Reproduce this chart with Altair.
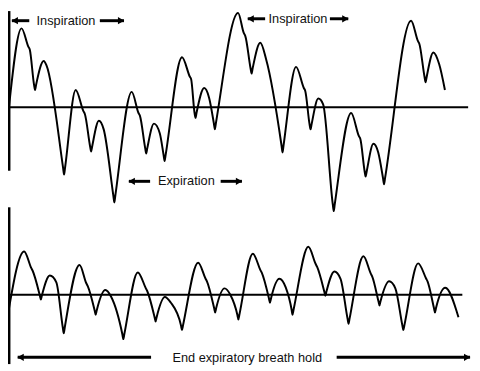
import altair as alt
import pandas as pd

# ---- trace data (x = time position, y = vertical position, 0 at top) ----
top_x = [1, 14, 21, 22.5, 27, 28, 29, 37, 40, 57, 58, 59, 70, 78, 79.5, 85, 86, 87, 94, 99,
         109, 110, 111, 128, 135, 136.5, 142, 143, 144, 151, 157, 161, 162, 163, 180, 188,
         189.5, 193, 194, 195, 203, 208, 213, 214, 215, 238, 244, 245.5, 251, 252, 253,
         261, 267, 283, 284, 285, 298, 306, 307.5, 312, 313, 314, 321, 326, 336, 337, 338,
         355, 363, 364.5, 369, 370, 371, 378, 383, 388, 389, 390, 417, 424, 425.5, 431,
         432, 433, 440, 446, 452]
top_y = [100, 18, 37, 40, 77, 82, 77, 52, 57, 163, 170, 163, 82, 104, 107, 141, 146, 141, 114,
         123, 192, 199, 192, 84, 106, 109, 143, 148, 143, 117, 127, 150, 156, 150, 48, 68,
         71, 106, 111, 106, 80, 90, 117, 123, 117, 2, 23, 26, 60, 65, 60,
         33, 50, 140, 147, 140, 58, 80, 83, 118, 123, 118, 91, 97, 201, 208, 201,
         106, 130, 133, 167, 172, 167, 138, 147, 174, 180, 174, 10, 31, 34, 69,
         74, 69, 43, 55, 82]

bot_x = [0, 16.7, 24, 25.5, 33, 34, 35, 43.3, 50, 56.7, 57.7, 58.7, 74, 81, 82.5, 89.7, 90.7,
         91.7, 100.7, 106.7, 118.3, 119.3, 120.3, 134.3, 142.5, 144, 151.7, 152.7, 153.7,
         162.3, 168.3, 179, 180, 181, 196.7, 204.3, 205.8, 213.3, 214.3, 215.3, 224, 230,
         237.3, 238.3, 239.3, 253.3, 261, 262.5, 270, 271, 272, 280.7, 287.3, 293.5, 294.3,
         295.3, 310.7, 318.3, 319.8, 327.3, 328.3, 329.3, 337.7, 344, 351.3, 352.3, 353.3,
         367.7, 375.3, 376.8, 383.3, 384.3, 385.3, 394.3, 400.7, 408, 409, 410, 424.3,
         432.5, 434, 440.7, 441.7, 442.7, 452.3, 466]
bot_y = [315, 250, 267, 270, 296, 300, 296, 275, 282, 329, 335, 329, 264, 283, 286, 311.5,
         315.7, 311.5, 290, 297, 336, 341, 336, 271.7, 288, 291, 318.5, 322.7, 318.5,
         297.3, 303, 327, 331.7, 327, 261.7, 278, 281, 309, 313.3, 309, 288.3, 295,
         316, 320.7, 316, 252.3, 269, 272, 299, 303.3, 299, 278.3, 287.3, 311, 315.7,
         311, 245, 263, 266, 292, 296, 292, 270.7, 278.3, 320, 325, 320,
         255, 273, 276, 302, 306, 302, 281, 288.3, 327, 331.7, 327, 262.3,
         278, 281, 309, 313.3, 309, 287.7, 318.3]

# baselines: (x start, x end, y)
base_x0 = [0, 0]
base_x1 = [476, 470]
base_y = [100, 295]

# left vertical bars: (x, y start, y end)
bar_x = [1, 1]
bar_y0 = [0, 204]
bar_y1 = [166, 367]

# arrows: tail, tip, y
arr_tail = [22, 95, 266, 333, 147, 220, 148, 340]
arr_tip = [4, 120, 248, 352, 125, 242, 10, 478]
arr_y = [10, 10, 8, 8, 177, 177, 360, 360]

# labels
lab_text = ["Inspiration", "Inspiration", "Expiration", "End expiratory breath hold"]
lab_x = [60, 300, 184.5, 247.5]
lab_y = [14.5, 12.5, 181, 365]

W, H = 472, 363
xs = alt.Scale(domain=[0, 480], nice=False, zero=False)
ys = alt.Scale(domain=[371, 0], nice=False, zero=False)

traces = pd.DataFrame({
    "x": top_x + bot_x,
    "y": top_y + bot_y,
    "trace": ["top"] * len(top_x) + ["bottom"] * len(bot_x),
    "i": list(range(len(top_x))) + list(range(len(bot_x))),
})
base = pd.DataFrame({"x": base_x0, "x2": base_x1, "y": base_y})
bars = pd.DataFrame({"x": bar_x, "y": bar_y0, "y2": bar_y1})
arrows = pd.DataFrame({"tail": arr_tail, "tip": arr_tip, "y": arr_y})
arrows["dir"] = ["left" if t < a else "right" for a, t in zip(arr_tail, arr_tip)]
arrows["hx"] = [t + 3 if t < a else t - 3 for a, t in zip(arr_tail, arr_tip)]
labels = pd.DataFrame({"text": lab_text, "x": lab_x, "y": lab_y})

X = lambda f: alt.X(f, type="quantitative", scale=xs, axis=None)
Y = lambda f: alt.Y(f, type="quantitative", scale=ys, axis=None)

lines = alt.Chart(traces).mark_line(
    interpolate="monotone", color="black", strokeWidth=2, strokeJoin="round"
).encode(x=X("x"), y=Y("y"), detail="trace:N", order="i:Q")

hrules = alt.Chart(base).mark_rule(color="black", strokeWidth=2).encode(
    x=X("x"), x2="x2", y=Y("y"))

vrules = alt.Chart(bars).mark_rule(color="black", strokeWidth=3).encode(
    x=X("x"), y=Y("y"), y2="y2")

arrow_lines = alt.Chart(arrows).mark_rule(color="black", strokeWidth=3).encode(
    x=X("tail"), x2="tip", y=Y("y"))

heads_left = alt.Chart(arrows).transform_filter(alt.datum.dir == "left").mark_point(
    shape="triangle-left", filled=True, color="black", size=55, opacity=1
).encode(x=X("hx"), y=Y("y"))

heads_right = alt.Chart(arrows).transform_filter(alt.datum.dir == "right").mark_point(
    shape="triangle-right", filled=True, color="black", size=55, opacity=1
).encode(x=X("hx"), y=Y("y"))

texts = alt.Chart(labels).mark_text(
    font="Liberation Sans", fontSize=13, color="#111", align="center", baseline="alphabetic"
).encode(x=X("x"), y=Y("y"), text="text:N")

chart = alt.layer(
    hrules, vrules, lines, arrow_lines, heads_left, heads_right, texts
).properties(
    width=W, height=H, padding=0, autosize=alt.AutoSizeParams(type="none")
).configure_view(stroke=None)

chart.save("out.html", embed_options={"renderer": "svg", "actions": False})
